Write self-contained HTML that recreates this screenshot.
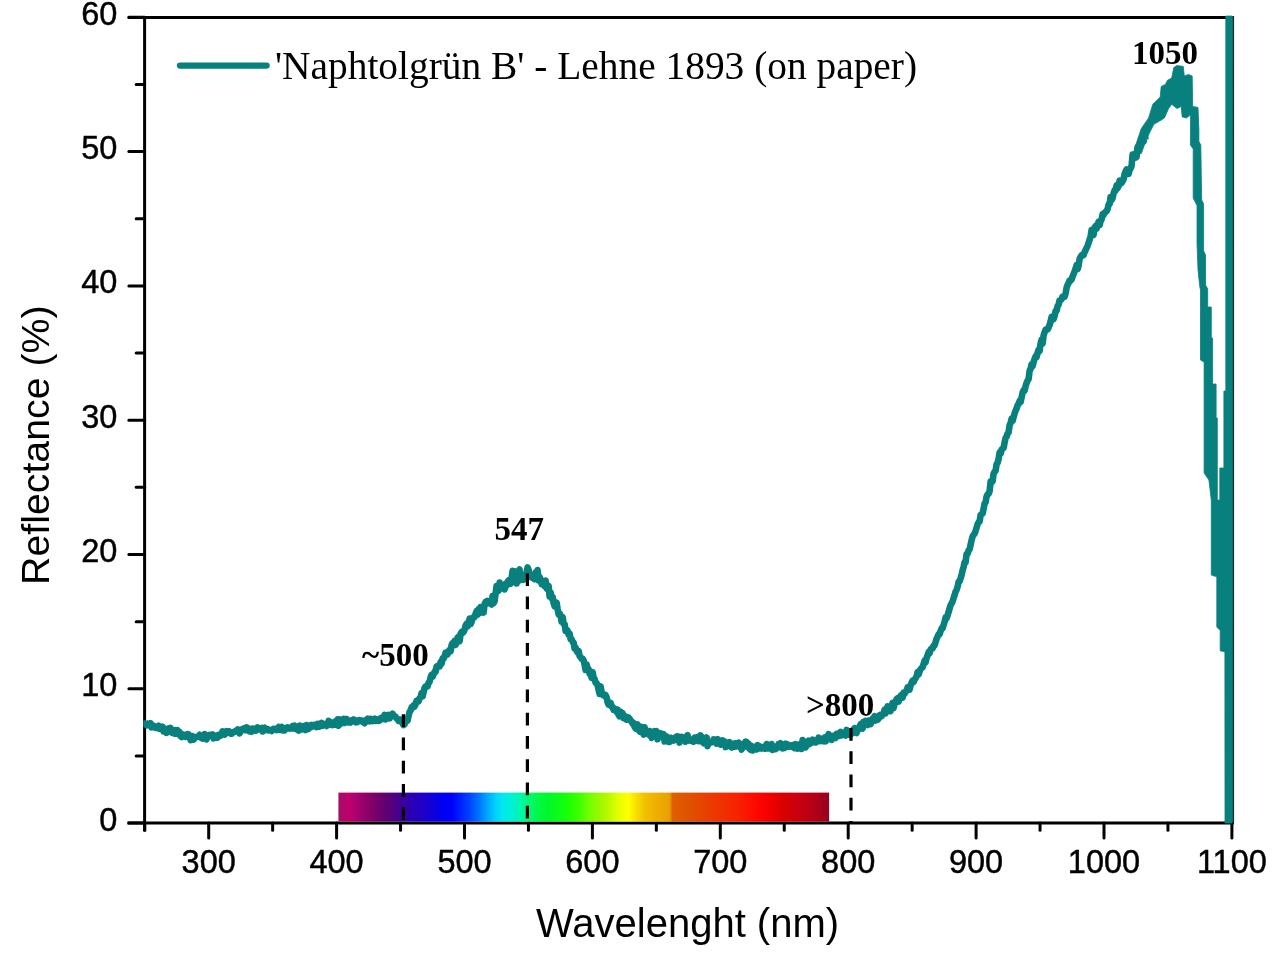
<!DOCTYPE html>
<html><head><meta charset="utf-8"><style>
html,body{margin:0;padding:0;background:#fff;width:1276px;height:953px;overflow:hidden}
svg{display:block;will-change:transform}
.tl{font-family:"Liberation Sans",sans-serif;font-size:32.5px;fill:#000;stroke:#000;stroke-width:0.45px}
.at{font-family:"Liberation Sans",sans-serif;font-size:40px;fill:#000}
.at2{font-family:"Liberation Sans",sans-serif;font-size:39.3px;fill:#000}
.lg{font-family:"Liberation Serif",serif;font-size:39.4px;fill:#000}
.an{font-family:"Liberation Serif",serif;font-size:33px;font-weight:bold;fill:#000}
</style></head><body>
<svg width="1276" height="953" viewBox="0 0 1276 953">
<line x1="144.6" y1="16" x2="144.6" y2="831.5" stroke="#000" stroke-width="3"/>
<line x1="127.4" y1="823.1" x2="1233.8" y2="823.1" stroke="#000" stroke-width="3"/>
<line x1="127.8" y1="17.5" x2="1233.8" y2="17.5" stroke="#000" stroke-width="3"/>
<line x1="1233.1" y1="16" x2="1233.1" y2="823" stroke="#1a2e2e" stroke-width="2"/>
<line x1="128.9" y1="823.10" x2="144.6" y2="823.10" stroke="#000" stroke-width="3" stroke-linecap="round"/>
<text x="117.4" y="830.50" text-anchor="end" class="tl">0</text>
<line x1="136.2" y1="755.95" x2="144.6" y2="755.95" stroke="#000" stroke-width="3" stroke-linecap="round"/>
<line x1="128.9" y1="688.80" x2="144.6" y2="688.80" stroke="#000" stroke-width="3" stroke-linecap="round"/>
<text x="117.4" y="696.20" text-anchor="end" class="tl">10</text>
<line x1="136.2" y1="621.65" x2="144.6" y2="621.65" stroke="#000" stroke-width="3" stroke-linecap="round"/>
<line x1="128.9" y1="554.50" x2="144.6" y2="554.50" stroke="#000" stroke-width="3" stroke-linecap="round"/>
<text x="117.4" y="561.90" text-anchor="end" class="tl">20</text>
<line x1="136.2" y1="487.35" x2="144.6" y2="487.35" stroke="#000" stroke-width="3" stroke-linecap="round"/>
<line x1="128.9" y1="420.20" x2="144.6" y2="420.20" stroke="#000" stroke-width="3" stroke-linecap="round"/>
<text x="117.4" y="427.60" text-anchor="end" class="tl">30</text>
<line x1="136.2" y1="353.05" x2="144.6" y2="353.05" stroke="#000" stroke-width="3" stroke-linecap="round"/>
<line x1="128.9" y1="285.90" x2="144.6" y2="285.90" stroke="#000" stroke-width="3" stroke-linecap="round"/>
<text x="117.4" y="293.30" text-anchor="end" class="tl">40</text>
<line x1="136.2" y1="218.75" x2="144.6" y2="218.75" stroke="#000" stroke-width="3" stroke-linecap="round"/>
<line x1="128.9" y1="151.60" x2="144.6" y2="151.60" stroke="#000" stroke-width="3" stroke-linecap="round"/>
<text x="117.4" y="159.00" text-anchor="end" class="tl">50</text>
<line x1="136.2" y1="84.45" x2="144.6" y2="84.45" stroke="#000" stroke-width="3" stroke-linecap="round"/>
<line x1="128.9" y1="17.30" x2="144.6" y2="17.30" stroke="#000" stroke-width="3" stroke-linecap="round"/>
<text x="117.4" y="24.70" text-anchor="end" class="tl">60</text>
<line x1="144.75" y1="823.1" x2="144.75" y2="830.2" stroke="#000" stroke-width="3" stroke-linecap="round"/>
<line x1="208.70" y1="823.1" x2="208.70" y2="838.0" stroke="#000" stroke-width="3" stroke-linecap="round"/>
<text x="208.70" y="873.4" text-anchor="middle" class="tl">300</text>
<line x1="272.65" y1="823.1" x2="272.65" y2="830.2" stroke="#000" stroke-width="3" stroke-linecap="round"/>
<line x1="336.60" y1="823.1" x2="336.60" y2="838.0" stroke="#000" stroke-width="3" stroke-linecap="round"/>
<text x="336.60" y="873.4" text-anchor="middle" class="tl">400</text>
<line x1="400.55" y1="823.1" x2="400.55" y2="830.2" stroke="#000" stroke-width="3" stroke-linecap="round"/>
<line x1="464.50" y1="823.1" x2="464.50" y2="838.0" stroke="#000" stroke-width="3" stroke-linecap="round"/>
<text x="464.50" y="873.4" text-anchor="middle" class="tl">500</text>
<line x1="528.45" y1="823.1" x2="528.45" y2="830.2" stroke="#000" stroke-width="3" stroke-linecap="round"/>
<line x1="592.40" y1="823.1" x2="592.40" y2="838.0" stroke="#000" stroke-width="3" stroke-linecap="round"/>
<text x="592.40" y="873.4" text-anchor="middle" class="tl">600</text>
<line x1="656.35" y1="823.1" x2="656.35" y2="830.2" stroke="#000" stroke-width="3" stroke-linecap="round"/>
<line x1="720.30" y1="823.1" x2="720.30" y2="838.0" stroke="#000" stroke-width="3" stroke-linecap="round"/>
<text x="720.30" y="873.4" text-anchor="middle" class="tl">700</text>
<line x1="784.25" y1="823.1" x2="784.25" y2="830.2" stroke="#000" stroke-width="3" stroke-linecap="round"/>
<line x1="848.20" y1="823.1" x2="848.20" y2="838.0" stroke="#000" stroke-width="3" stroke-linecap="round"/>
<text x="848.20" y="873.4" text-anchor="middle" class="tl">800</text>
<line x1="912.15" y1="823.1" x2="912.15" y2="830.2" stroke="#000" stroke-width="3" stroke-linecap="round"/>
<line x1="976.10" y1="823.1" x2="976.10" y2="838.0" stroke="#000" stroke-width="3" stroke-linecap="round"/>
<text x="976.10" y="873.4" text-anchor="middle" class="tl">900</text>
<line x1="1040.05" y1="823.1" x2="1040.05" y2="830.2" stroke="#000" stroke-width="3" stroke-linecap="round"/>
<line x1="1104.00" y1="823.1" x2="1104.00" y2="838.0" stroke="#000" stroke-width="3" stroke-linecap="round"/>
<text x="1104.00" y="873.4" text-anchor="middle" class="tl">1000</text>
<line x1="1167.95" y1="823.1" x2="1167.95" y2="830.2" stroke="#000" stroke-width="3" stroke-linecap="round"/>
<line x1="1231.90" y1="823.1" x2="1231.90" y2="838.0" stroke="#000" stroke-width="3" stroke-linecap="round"/>
<text x="1231.90" y="873.4" text-anchor="middle" class="tl">1100</text>
<defs><linearGradient id="cb" x1="0" x2="1" y1="0" y2="0"><stop offset="0.0" stop-color="#a0106a"/><stop offset="0.0202" stop-color="#c00068"/><stop offset="0.0375" stop-color="#a80070"/><stop offset="0.0567" stop-color="#900068"/><stop offset="0.0758" stop-color="#780068"/><stop offset="0.095" stop-color="#600070"/><stop offset="0.1141" stop-color="#500080"/><stop offset="0.1333" stop-color="#3a00a0"/><stop offset="0.1526" stop-color="#2800b8"/><stop offset="0.1718" stop-color="#2000c8"/><stop offset="0.1907" stop-color="#1000d8"/><stop offset="0.2101" stop-color="#0000f0"/><stop offset="0.2315" stop-color="#0000fc"/><stop offset="0.2657" stop-color="#0040ff"/><stop offset="0.2849" stop-color="#0070ff"/><stop offset="0.3041" stop-color="#00a8ff"/><stop offset="0.3232" stop-color="#00d8f8"/><stop offset="0.3348" stop-color="#00e8f0"/><stop offset="0.3519" stop-color="#00f0d8"/><stop offset="0.3713" stop-color="#00f8a8"/><stop offset="0.3905" stop-color="#00f870"/><stop offset="0.4096" stop-color="#00f840"/><stop offset="0.4288" stop-color="#00f828"/><stop offset="0.4575" stop-color="#10ff10"/><stop offset="0.472" stop-color="#20ff00"/><stop offset="0.4911" stop-color="#40ff00"/><stop offset="0.5103" stop-color="#70ff00"/><stop offset="0.5294" stop-color="#98f800"/><stop offset="0.5486" stop-color="#b8f800"/><stop offset="0.5678" stop-color="#e0ff00"/><stop offset="0.5908" stop-color="#ffff00"/><stop offset="0.6063" stop-color="#f8e000"/><stop offset="0.6254" stop-color="#f0c000"/><stop offset="0.6446" stop-color="#f0b000"/><stop offset="0.6748" stop-color="#e8a000"/><stop offset="0.6809" stop-color="#e06000"/><stop offset="0.7165" stop-color="#e05000"/><stop offset="0.7502" stop-color="#e84000"/><stop offset="0.7836" stop-color="#f03000"/><stop offset="0.8172" stop-color="#f82000"/><stop offset="0.8508" stop-color="#ff0800"/><stop offset="0.873" stop-color="#f80000"/><stop offset="0.9067" stop-color="#d80000"/><stop offset="0.9403" stop-color="#c80010"/><stop offset="0.9737" stop-color="#b00018"/><stop offset="1.0" stop-color="#980020"/></linearGradient></defs>
<rect x="338.4" y="792.6" width="490.7" height="29.0" fill="url(#cb)"/>
<defs><clipPath id="cl"><rect x="143.3" y="0" width="1133" height="953"/></clipPath></defs>
<path d="M143.6,726.3 L144.6,723.5 L145.6,724.4 L146.6,725.2 L147.6,723.8 L148.6,725.2 L149.6,725.4 L150.6,723.3 L151.6,727.4 L152.6,727.1 L153.6,725.7 L154.6,726.6 L155.6,727.8 L156.6,727.0 L157.6,727.3 L158.6,725.8 L159.6,728.9 L160.6,728.6 L161.6,729.1 L162.6,726.8 L163.6,731.5 L164.6,729.7 L165.6,729.1 L166.6,732.8 L167.6,730.1 L168.6,728.4 L169.6,730.1 L170.6,727.9 L171.6,732.7 L172.6,730.9 L173.6,730.8 L174.6,733.7 L175.6,730.1 L176.6,733.6 L177.6,730.2 L178.6,732.5 L179.6,732.1 L180.6,736.2 L181.6,737.0 L182.6,734.3 L183.6,736.4 L184.6,735.3 L185.6,736.7 L186.6,735.1 L187.6,734.1 L188.6,734.2 L189.6,737.5 L190.6,740.2 L191.6,737.5 L192.6,736.3 L193.6,739.7 L194.6,737.3 L195.6,737.0 L196.6,737.2 L197.6,736.6 L198.6,736.3 L199.6,734.7 L200.6,737.5 L201.6,736.6 L202.6,738.5 L203.6,736.3 L204.6,734.1 L205.6,736.7 L206.6,739.3 L207.6,736.3 L208.6,735.5 L209.6,734.9 L210.6,735.0 L211.6,736.0 L212.6,734.5 L213.6,738.3 L214.6,735.5 L215.6,736.0 L216.6,737.7 L217.6,737.6 L218.6,734.8 L219.6,735.3 L220.6,735.6 L221.6,733.9 L222.6,731.3 L223.6,734.5 L224.6,734.6 L225.6,733.6 L226.6,731.3 L227.6,732.1 L228.6,731.3 L229.6,731.5 L230.6,733.7 L231.6,733.8 L232.6,732.3 L233.6,732.0 L234.6,732.0 L235.6,730.8 L236.6,730.5 L237.6,729.5 L238.6,730.2 L239.6,733.4 L240.6,731.3 L241.6,729.4 L242.6,729.1 L243.6,728.4 L244.6,730.1 L245.6,730.1 L246.6,727.3 L247.6,730.1 L248.6,728.5 L249.6,731.4 L250.6,729.5 L251.6,731.8 L252.6,728.6 L253.6,728.8 L254.6,729.7 L255.6,730.7 L256.6,730.0 L257.6,727.3 L258.6,729.4 L259.6,729.1 L260.6,728.4 L261.6,728.0 L262.6,731.5 L263.6,728.4 L264.6,727.7 L265.6,730.0 L266.6,729.3 L267.6,729.1 L268.6,730.4 L269.6,730.1 L270.6,730.0 L271.6,731.0 L272.6,730.1 L273.6,728.8 L274.6,729.2 L275.6,729.0 L276.6,730.1 L277.6,728.2 L278.6,727.1 L279.6,729.9 L280.6,727.8 L281.6,726.9 L282.6,730.3 L283.6,728.6 L284.6,730.4 L285.6,728.7 L286.6,727.7 L287.6,727.4 L288.6,728.3 L289.6,728.6 L290.6,727.6 L291.6,728.3 L292.6,726.3 L293.6,728.5 L294.6,725.7 L295.6,728.0 L296.6,729.2 L297.6,729.7 L298.6,730.6 L299.6,725.6 L300.6,728.9 L301.6,729.5 L302.6,729.1 L303.6,726.1 L304.6,728.0 L305.6,730.1 L306.6,725.0 L307.6,727.8 L308.6,728.7 L309.6,725.8 L310.6,727.5 L311.6,724.9 L312.6,725.1 L313.6,724.9 L314.6,726.2 L315.6,725.6 L316.6,727.0 L317.6,724.0 L318.6,725.1 L319.6,726.6 L320.6,725.8 L321.6,722.8 L322.6,725.7 L323.6,723.8 L324.6,724.9 L325.6,724.7 L326.6,725.9 L327.6,724.1 L328.6,721.0 L329.6,721.6 L330.6,724.7 L331.6,723.0 L332.6,725.0 L333.6,723.6 L334.6,721.9 L335.6,724.6 L336.6,721.6 L337.6,719.5 L338.6,725.7 L339.6,719.4 L340.6,723.1 L341.6,723.4 L342.6,722.0 L343.6,719.0 L344.6,723.0 L345.6,719.1 L346.6,719.1 L347.6,720.6 L348.6,722.4 L349.6,721.6 L350.6,722.4 L351.6,720.5 L352.6,721.0 L353.6,719.5 L354.6,720.8 L355.6,722.2 L356.6,720.8 L357.6,721.9 L358.6,720.2 L359.6,720.1 L360.6,721.0 L361.6,720.6 L362.6,721.7 L363.6,721.0 L364.6,723.3 L365.6,720.2 L366.6,720.1 L367.6,718.7 L368.6,720.3 L369.6,721.2 L370.6,718.9 L371.6,719.9 L372.6,720.9 L373.6,719.5 L374.6,718.8 L375.6,720.9 L376.6,719.4 L377.6,719.7 L378.6,720.8 L379.6,720.5 L380.6,718.1 L381.6,717.6 L382.6,718.7 L383.6,717.8 L384.6,714.8 L385.6,719.5 L386.6,717.3 L387.6,718.1 L388.6,714.9 L389.6,718.4 L390.6,715.2 L391.6,715.8 L392.6,713.7 L393.6,715.9 L394.6,716.1 L395.6,716.8 L396.6,718.5 L397.6,718.7 L398.6,720.9 L399.6,719.5 L400.6,719.6 L401.6,722.0 L402.6,723.6 L403.6,725.0 L404.6,724.3 L405.6,719.6 L406.6,721.2 L407.6,720.5 L408.6,715.7 L409.6,711.8 L410.6,710.6 L411.6,707.4 L412.6,707.7 L413.6,705.4 L414.6,706.4 L415.6,703.9 L416.6,700.9 L417.6,701.9 L418.6,701.4 L419.6,698.1 L420.6,697.2 L421.6,693.0 L422.6,696.4 L423.6,692.3 L424.6,687.8 L425.6,686.3 L426.6,686.7 L427.6,686.2 L428.6,682.8 L429.6,681.7 L430.6,677.2 L431.6,674.9 L432.6,676.7 L433.6,674.2 L434.6,671.6 L435.6,671.9 L436.6,666.6 L437.6,665.8 L438.6,666.6 L439.6,666.4 L440.6,662.1 L441.6,663.5 L442.6,658.4 L443.6,658.6 L444.6,656.4 L445.6,652.6 L446.6,654.5 L447.6,654.4 L448.6,651.1 L449.6,649.9 L450.6,651.3 L451.6,645.0 L452.6,643.1 L453.6,643.4 L454.6,641.0 L455.6,644.8 L456.6,641.4 L457.6,637.6 L458.6,636.7 L459.6,641.3 L460.6,633.8 L461.6,632.0 L462.6,632.8 L463.6,632.0 L464.6,629.6 L465.6,625.6 L466.6,623.7 L467.6,626.4 L468.6,623.7 L469.6,618.6 L470.6,624.1 L471.6,621.9 L472.6,618.2 L473.6,617.0 L474.6,617.1 L475.6,613.7 L476.6,611.1 L477.6,614.6 L478.6,609.1 L479.6,613.0 L480.6,607.2 L481.6,609.7 L482.6,608.5 L483.6,612.6 L484.6,603.9 L485.6,601.9 L486.6,603.1 L487.6,601.0 L488.6,601.6 L489.6,603.4 L490.6,603.2 L491.6,604.5 L492.6,596.0 L493.6,603.2 L494.6,601.1 L495.6,593.3 L496.6,586.0 L497.6,591.2 L498.6,590.6 L499.6,582.6 L500.6,588.8 L501.6,587.2 L502.6,584.8 L503.6,588.7 L504.6,589.3 L505.6,583.9 L506.6,585.6 L507.6,581.8 L508.6,580.5 L509.6,582.8 L510.6,583.6 L511.6,578.4 L512.6,570.8 L513.6,580.9 L514.6,571.3 L515.6,577.5 L516.6,583.5 L517.6,575.9 L518.6,570.9 L519.6,569.6 L520.6,580.1 L521.6,575.5 L522.6,577.9 L523.6,579.7 L524.6,576.0 L525.6,575.0 L526.6,572.5 L527.6,567.4 L528.6,570.0 L529.6,575.7 L530.6,575.2 L531.6,577.5 L532.6,575.4 L533.6,576.6 L534.6,579.2 L535.6,572.6 L536.6,575.1 L537.6,570.0 L538.6,580.4 L539.6,576.9 L540.6,579.2 L541.6,584.1 L542.6,583.6 L543.6,581.1 L544.6,586.0 L545.6,580.5 L546.6,588.5 L547.6,589.4 L548.6,585.9 L549.6,596.4 L550.6,592.2 L551.6,598.2 L552.6,596.9 L553.6,603.1 L554.6,606.3 L555.6,602.3 L556.6,602.6 L557.6,609.0 L558.6,614.3 L559.6,613.5 L560.6,615.6 L561.6,621.6 L562.6,616.9 L563.6,623.7 L564.6,624.1 L565.6,630.8 L566.6,629.8 L567.6,630.7 L568.6,634.7 L569.6,633.5 L570.6,639.2 L571.6,639.3 L572.6,641.8 L573.6,642.6 L574.6,648.5 L575.6,647.6 L576.6,650.9 L577.6,652.4 L578.6,650.9 L579.6,656.0 L580.6,657.1 L581.6,658.7 L582.6,658.6 L583.6,660.3 L584.6,664.9 L585.6,670.0 L586.6,664.4 L587.6,669.4 L588.6,669.1 L589.6,673.6 L590.6,674.6 L591.6,677.9 L592.6,672.2 L593.6,677.8 L594.6,678.8 L595.6,682.7 L596.6,683.2 L597.6,685.1 L598.6,689.7 L599.6,694.0 L600.6,686.4 L601.6,692.0 L602.6,694.7 L603.6,695.4 L604.6,696.0 L605.6,695.1 L606.6,697.4 L607.6,702.4 L608.6,704.5 L609.6,703.7 L610.6,703.0 L611.6,706.5 L612.6,707.0 L613.6,709.9 L614.6,709.9 L615.6,709.2 L616.6,711.8 L617.6,709.6 L618.6,714.8 L619.6,716.3 L620.6,711.7 L621.6,715.8 L622.6,713.2 L623.6,718.3 L624.6,718.4 L625.6,716.4 L626.6,719.7 L627.6,717.2 L628.6,717.6 L629.6,718.7 L630.6,720.7 L631.6,721.4 L632.6,723.6 L633.6,722.9 L634.6,727.0 L635.6,728.5 L636.6,725.9 L637.6,724.4 L638.6,729.9 L639.6,731.4 L640.6,729.0 L641.6,727.0 L642.6,731.1 L643.6,734.5 L644.6,727.2 L645.6,733.1 L646.6,731.8 L647.6,731.1 L648.6,734.7 L649.6,731.0 L650.6,735.1 L651.6,737.8 L652.6,735.4 L653.6,733.1 L654.6,731.1 L655.6,732.4 L656.6,731.2 L657.6,739.3 L658.6,735.1 L659.6,733.5 L660.6,733.2 L661.6,734.1 L662.6,736.1 L663.6,734.2 L664.6,741.5 L665.6,736.1 L666.6,736.4 L667.6,739.1 L668.6,742.0 L669.6,741.9 L670.6,737.8 L671.6,739.7 L672.6,739.6 L673.6,740.6 L674.6,740.1 L675.6,737.3 L676.6,736.5 L677.6,739.9 L678.6,736.6 L679.6,742.6 L680.6,739.4 L681.6,736.9 L682.6,738.5 L683.6,738.1 L684.6,739.1 L685.6,741.7 L686.6,736.2 L687.6,735.3 L688.6,740.6 L689.6,739.4 L690.6,740.3 L691.6,741.0 L692.6,739.5 L693.6,741.8 L694.6,737.7 L695.6,739.9 L696.6,737.7 L697.6,737.0 L698.6,741.2 L699.6,741.2 L700.6,735.4 L701.6,737.5 L702.6,741.1 L703.6,743.2 L704.6,739.2 L705.6,740.4 L706.6,737.5 L707.6,746.1 L708.6,741.9 L709.6,742.7 L710.6,742.0 L711.6,742.5 L712.6,741.7 L713.6,739.4 L714.6,742.0 L715.6,740.6 L716.6,743.7 L717.6,739.2 L718.6,739.9 L719.6,742.9 L720.6,744.6 L721.6,742.2 L722.6,740.4 L723.6,742.1 L724.6,741.4 L725.6,747.1 L726.6,745.0 L727.6,746.0 L728.6,744.0 L729.6,742.1 L730.6,746.3 L731.6,747.5 L732.6,745.2 L733.6,744.0 L734.6,746.7 L735.6,743.5 L736.6,746.3 L737.6,743.1 L738.6,742.6 L739.6,746.3 L740.6,745.9 L741.6,749.6 L742.6,744.8 L743.6,745.7 L744.6,743.2 L745.6,741.7 L746.6,742.0 L747.6,747.2 L748.6,743.6 L749.6,748.9 L750.6,749.7 L751.6,746.0 L752.6,750.5 L753.6,747.4 L754.6,749.6 L755.6,746.7 L756.6,749.3 L757.6,745.2 L758.6,748.6 L759.6,746.2 L760.6,746.9 L761.6,748.5 L762.6,747.5 L763.6,746.9 L764.6,748.7 L765.6,748.8 L766.6,744.0 L767.6,748.2 L768.6,748.4 L769.6,745.3 L770.6,747.7 L771.6,744.0 L772.6,749.9 L773.6,746.3 L774.6,746.6 L775.6,749.2 L776.6,746.3 L777.6,747.8 L778.6,744.2 L779.6,745.1 L780.6,743.3 L781.6,745.7 L782.6,748.3 L783.6,746.5 L784.6,747.8 L785.6,743.7 L786.6,743.9 L787.6,744.7 L788.6,746.8 L789.6,746.3 L790.6,745.5 L791.6,746.7 L792.6,745.1 L793.6,745.3 L794.6,748.1 L795.6,744.1 L796.6,745.7 L797.6,748.6 L798.6,745.4 L799.6,746.6 L800.6,743.8 L801.6,748.9 L802.6,740.1 L803.6,742.1 L804.6,742.1 L805.6,747.4 L806.6,744.6 L807.6,743.1 L808.6,740.8 L809.6,744.0 L810.6,743.2 L811.6,741.4 L812.6,739.6 L813.6,740.1 L814.6,742.5 L815.6,742.5 L816.6,741.8 L817.6,741.1 L818.6,737.6 L819.6,741.0 L820.6,738.6 L821.6,740.5 L822.6,741.1 L823.6,738.5 L824.6,737.6 L825.6,741.3 L826.6,739.8 L827.6,737.5 L828.6,734.1 L829.6,738.1 L830.6,739.1 L831.6,739.8 L832.6,735.9 L833.6,735.7 L834.6,735.8 L835.6,738.0 L836.6,733.8 L837.6,735.5 L838.6,733.7 L839.6,735.7 L840.6,731.9 L841.6,735.3 L842.6,733.3 L843.6,733.6 L844.6,734.7 L845.6,735.6 L846.6,729.9 L847.6,734.7 L848.6,733.6 L849.6,731.6 L850.6,734.5 L851.6,731.7 L852.6,733.3 L853.6,729.3 L854.6,728.2 L855.6,731.7 L856.6,732.9 L857.6,729.5 L858.6,729.5 L859.6,726.4 L860.6,724.3 L861.6,725.9 L862.6,728.6 L863.6,721.9 L864.6,723.9 L865.6,720.8 L866.6,724.0 L867.6,724.9 L868.6,720.5 L869.6,721.5 L870.6,724.2 L871.6,721.1 L872.6,718.5 L873.6,717.9 L874.6,716.1 L875.6,720.6 L876.6,717.2 L877.6,719.7 L878.6,718.6 L879.6,715.1 L880.6,714.6 L881.6,716.2 L882.6,714.3 L883.6,713.8 L884.6,709.6 L885.6,713.5 L886.6,709.5 L887.6,706.3 L888.6,708.2 L889.6,709.2 L890.6,711.1 L891.6,705.7 L892.6,702.9 L893.6,708.0 L894.6,703.5 L895.6,701.7 L896.6,699.2 L897.6,698.3 L898.6,701.6 L899.6,697.5 L900.6,695.9 L901.6,694.9 L902.6,697.6 L903.6,692.6 L904.6,693.7 L905.6,691.9 L906.6,690.7 L907.6,687.5 L908.6,689.1 L909.6,689.6 L910.6,685.4 L911.6,682.7 L912.6,680.7 L913.6,681.9 L914.6,679.5 L915.6,678.1 L916.6,676.5 L917.6,672.1 L918.6,674.3 L919.6,671.5 L920.6,669.2 L921.6,667.9 L922.6,667.4 L923.6,664.0 L924.6,660.6 L925.6,662.4 L926.6,657.7 L927.6,655.4 L928.6,652.1 L929.6,653.1 L930.6,649.4 L931.6,648.5 L932.6,648.3 L933.6,645.6 L934.6,645.3 L935.6,642.0 L936.6,638.7 L937.6,636.7 L938.6,634.3 L939.6,634.3 L940.6,631.1 L941.6,628.3 L942.6,628.4 L943.6,624.9 L944.6,621.7 L945.6,617.4 L946.6,618.3 L947.6,615.2 L948.6,612.1 L949.6,608.5 L950.6,605.1 L951.6,603.4 L952.6,601.4 L953.6,598.0 L954.6,595.1 L955.6,591.6 L956.6,589.9 L957.6,586.6 L958.6,581.8 L959.6,581.3 L960.6,578.2 L961.6,575.1 L962.6,570.3 L963.6,567.0 L964.6,562.1 L965.6,562.2 L966.6,553.9 L967.6,553.7 L968.6,550.5 L969.6,549.4 L970.6,544.8 L971.6,540.1 L972.6,536.4 L973.6,534.8 L974.6,533.6 L975.6,530.8 L976.6,527.7 L977.6,524.2 L978.6,522.3 L979.6,521.6 L980.6,515.1 L981.6,514.1 L982.6,513.6 L983.6,508.6 L984.6,503.6 L985.6,502.2 L986.6,496.5 L987.6,494.5 L988.6,493.8 L989.6,491.1 L990.6,481.6 L991.6,482.4 L992.6,481.2 L993.6,473.6 L994.6,471.8 L995.6,470.7 L996.6,464.2 L997.6,462.8 L998.6,458.9 L999.6,452.7 L1000.6,453.6 L1001.6,449.7 L1002.6,448.7 L1003.6,447.8 L1004.6,442.5 L1005.6,437.9 L1006.6,436.7 L1007.6,433.5 L1008.6,432.3 L1009.6,425.2 L1010.6,423.0 L1011.6,418.7 L1012.6,420.8 L1013.6,417.1 L1014.6,413.4 L1015.6,410.7 L1016.6,408.4 L1017.6,405.3 L1018.6,403.8 L1019.6,401.0 L1020.6,402.0 L1021.6,397.4 L1022.6,392.6 L1023.6,390.2 L1024.6,390.6 L1025.6,386.2 L1026.6,382.8 L1027.6,380.6 L1028.6,379.2 L1029.6,370.8 L1030.6,368.9 L1031.6,364.3 L1032.6,366.1 L1033.6,362.0 L1034.6,359.0 L1035.6,356.4 L1036.6,356.9 L1037.6,352.9 L1038.6,349.9 L1039.6,351.0 L1040.6,343.4 L1041.6,339.7 L1042.6,343.6 L1043.6,335.4 L1044.6,332.3 L1045.6,329.7 L1046.6,329.2 L1047.6,329.4 L1048.6,327.5 L1049.6,325.1 L1050.6,321.5 L1051.6,316.9 L1052.6,318.5 L1053.6,319.0 L1054.6,315.8 L1055.6,311.0 L1056.6,310.8 L1057.6,306.1 L1058.6,304.8 L1059.6,300.2 L1060.6,300.2 L1061.6,299.2 L1062.6,296.5 L1063.6,296.4 L1064.6,296.7 L1065.6,293.4 L1066.6,287.7 L1067.6,284.9 L1068.6,283.2 L1069.6,280.5 L1070.6,280.7 L1071.6,279.3 L1072.6,276.4 L1073.6,274.0 L1074.6,271.5 L1075.6,268.7 L1076.6,265.2 L1077.6,269.0 L1078.6,265.5 L1079.6,259.0 L1080.6,256.9 L1081.6,255.4 L1082.6,254.5 L1083.6,255.0 L1084.6,252.1 L1085.6,250.0 L1086.6,247.9 L1087.6,245.8 L1088.6,242.8 L1089.6,239.9 L1090.6,236.3 L1091.6,230.1 L1092.6,232.0 L1093.6,234.9 L1094.6,227.5 L1095.6,225.9 L1096.6,228.6 L1097.6,224.8 L1098.6,221.8 L1099.6,225.2 L1100.6,221.0 L1101.6,219.4 L1102.6,214.1 L1103.6,215.0 L1104.6,212.8 L1105.6,211.9 L1106.6,211.1 L1107.6,209.1 L1108.6,204.5 L1109.6,204.0 L1110.6,197.0 L1111.6,200.0 L1112.6,198.2 L1113.6,193.3 L1114.6,190.3 L1115.6,190.5 L1116.6,185.4 L1117.6,188.1 L1118.6,186.1 L1119.6,180.7 L1120.6,181.8 L1121.6,183.0 L1122.6,181.2 L1123.6,179.2 L1124.6,173.9 L1125.6,171.5 L1126.6,169.5 L1127.6,170.7 L1128.6,173.9 L1129.6,169.7 L1130.6,168.4 L1131.6,165.8 L1132.6,154.5 L1133.6,157.0 L1134.6,154.2 L1135.6,157.6 L1136.6,157.0 L1137.6,147.4 L1138.6,147.8 L1139.6,147.7 L1140.6,142.4 L1141.6,140.1 L1142.6,138.1 L1143.6,141.5 L1144.6,133.9 L1145.6,139.7" fill="none" stroke="#08807e" stroke-width="6.6" stroke-linejoin="round" stroke-linecap="butt" clip-path="url(#cl)"/>
<path d="M1134.0,152.0 L1135.0,147.3 L1139.2,134.7 L1141.3,128.5 L1148.6,118.0 L1152.8,104.3 L1156.0,101.2 L1160.2,97.0 L1161.2,86.5 L1165.4,84.4 L1167.5,80.2 L1171.7,78.1 L1173.8,67.6 L1177.0,65.5 L1183.3,66.5 L1184.3,76.0 L1188.5,74.4 L1192.2,76.0 L1192.7,106.4 L1198.0,107.5 L1198.9,130.0 L1198.9,141.3 L1200.8,145.0 L1201.7,200.0 L1203.6,203.7 L1203.6,251.0 L1205.5,254.8 L1205.5,285.0 L1207.7,288.8 L1207.7,307.0 L1211.3,307.0 L1211.3,338.0 L1212.5,338.0 L1212.5,384.0 L1216.1,384.0 L1216.1,418.0 L1217.3,418.0 L1217.3,500.0 L1219.8,500.0 L1219.8,468.0 L1223.9,468.0 L1223.9,391.0 L1225.8,391.0 L1225.8,16.0 L1232.2,16.0 L1232.2,823.0 L1225.0,823.0 L1224.9,652.0 L1220.2,650.7 L1220.2,630.5 L1216.8,627.0 L1216.8,576.8 L1211.3,575.0 L1211.3,500.0 L1208.9,480.0 L1204.1,473.0 L1204.1,362.0 L1200.5,360.0 L1200.5,290.0 L1199.8,286.9 L1198.0,269.9 L1197.0,243.4 L1197.0,205.6 L1193.2,198.0 L1193.2,148.9 L1190.4,145.0 L1190.6,114.8 L1186.4,118.0 L1182.2,116.9 L1181.2,106.4 L1177.0,108.5 L1171.7,104.3 L1168.6,108.5 L1164.4,118.0 L1161.2,120.1 L1153.9,124.3 L1150.7,130.6 L1146.5,139.0 L1141.3,153.6 Z" fill="#08807e" stroke="#08807e" stroke-width="0.8" stroke-linejoin="round"/>
<line x1="403.4" y1="714.3" x2="403.4" y2="823" stroke="#000" stroke-width="3.2" stroke-dasharray="12.8 10.45"/>
<line x1="527.4" y1="573.2" x2="527.4" y2="823" stroke="#000" stroke-width="3.2" stroke-dasharray="12.8 10.45"/>
<line x1="851.0" y1="728.0" x2="851.0" y2="823" stroke="#000" stroke-width="3.2" stroke-dasharray="12.8 10.45"/>
<line x1="180" y1="65.6" x2="266.6" y2="65.6" stroke="#08807e" stroke-width="6.3" stroke-linecap="round"/>
<text x="275" y="78.8" class="lg">'Naphtolgrün B' - Lehne 1893 (on paper)</text>
<text x="362" y="665.6" class="an">~500</text>
<text x="494.5" y="540" class="an">547</text>
<text x="806" y="716.3" class="an">&gt;800</text>
<text x="1132" y="64.1" class="an">1050</text>
<text x="536" y="937" class="at">Wavelenght (nm)</text>
<text transform="translate(49,585) rotate(-90)" x="0" y="0" class="at2">Reflectance (%)</text>
</svg>
</body></html>
